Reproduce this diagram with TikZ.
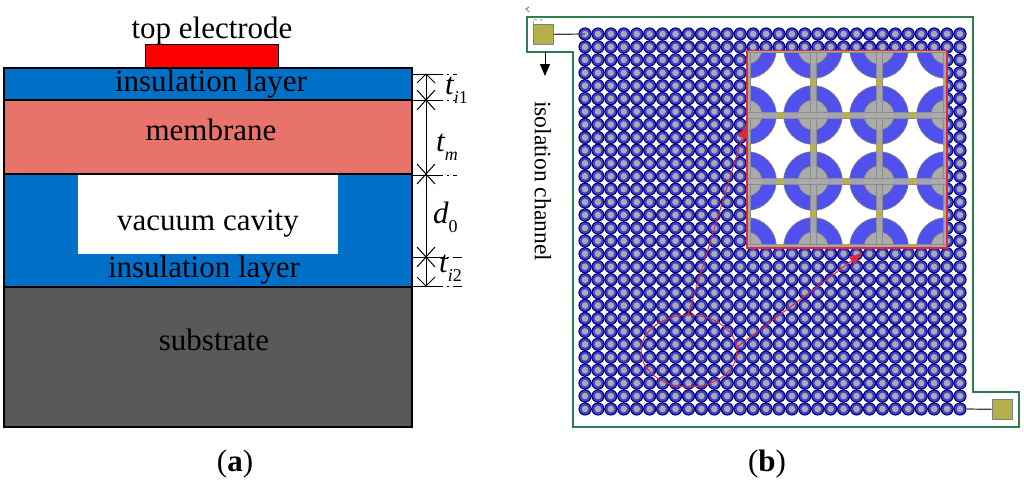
\documentclass[tikz,border=0pt]{standalone}
\usepackage{fontspec}
\setmainfont{Liberation Serif}
\usetikzlibrary{arrows.meta,shapes.geometric}
\definecolor{layerblue}{HTML}{0070C8}
\definecolor{membranered}{HTML}{E8736A}
\definecolor{subgray}{HTML}{595959}
\definecolor{ringblue}{HTML}{3F3FD8}
\definecolor{insetblue}{HTML}{5050EE}
\definecolor{cellgray}{HTML}{ABABAB}
\definecolor{padolive}{HTML}{B5B04A}
\definecolor{framegreen}{HTML}{2E7D4F}
\definecolor{pointred}{HTML}{E0283C}
\newcommand{\sublab}[2]{{\itshape #1}\raisebox{-0.3em}{\fontsize{18}{18}\selectfont #2}}
\tikzset{
  layer/.style={draw=black,line width=1.2pt,minimum width=408pt,inner sep=0pt,outer sep=0pt},
  lab/.style={font=\fontsize{31}{31}\selectfont,inner sep=0pt},
  dimlab/.style={font=\fontsize{31}{31}\selectfont,inner sep=0pt,anchor=west},
  dimline/.style={line width=1pt,black},
  tick/.style={line width=1pt,black,dash pattern=on 31pt off 4pt on 2pt off 4pt on 14pt},
  pad/.style={draw=gray,line width=1pt,fill=padolive,minimum size=20pt,inner sep=0pt},
  wire/.style={line width=1.2pt,black!75},
  pointer/.style={pointred,line width=1pt},
}
\begin{document}
\begin{tikzpicture}[x=1pt,y=-1pt]
\useasboundingbox (0,0) rectangle (1024,487);
% --- panel (a)
\node[draw=black,line width=1pt,fill=red,minimum width=133pt,minimum height=23pt,inner sep=0pt] (electrode) at (211.5,56.5) {};
\node[lab] (electrodeT) at (212,31) {top electrode};
\node[layer,fill=layerblue,minimum height=32pt] (insA) at (208,84) {};
\node[lab] (insAT) at (211,84) {insulation layer};
\node[layer,fill=membranered,minimum height=74pt] (membrane) at (208,137) {};
\node[lab] (membraneT) at (211,130) {membrane};
\node[layer,fill=layerblue,minimum height=113pt] (insB) at (208,230.5) {};
\node[fill=white,minimum width=260pt,minimum height=79pt,inner sep=0pt] (cavity) at (208,214) {};
\node[lab] (cavityT) at (208,224) {vacuum cavity};
\node[lab] (insBT) at (204,270) {insulation layer};
\node[layer,fill=subgray,minimum height=140pt] (substrate) at (208,357) {};
\node[lab] (substrateT) at (214,340) {substrate};
% dimension ticks
\coordinate (d1) at (426,74);
\coordinate (d2) at (426,100);
\coordinate (d3) at (426,174);
\coordinate (d4) at (426,257);
\coordinate (d5) at (426,286);
\coordinate (e1) at (457,74);
\coordinate (e2) at (455,100);
\coordinate (e3) at (457,175);
\coordinate (e4) at (462,257);
\coordinate (e5) at (462,286);
\draw[tick] (412,74) -- (e1);
\draw[tick] (412,100) -- (e2);
\draw[tick] (412,175) -- (e3);
\draw[tick] (412,257) -- (e4);
\draw[tick] (412,286) -- (e5);
\draw[dimline] (d1) -- (d5);
\draw[dimline] (417,83) -- (d1) -- (435,83);
\draw[dimline] (417,277) -- (d5) -- (435,277);
\foreach \c in {d2,d3,d4}{
  \draw[dimline] ([shift={(-9,-10)}]\c) -- ([shift={(9,10)}]\c);
  \draw[dimline] ([shift={(-9,10)}]\c) -- ([shift={(9,-10)}]\c);
}
\node[dimlab] (ti1) at (445,90) {\sublab{t}{\textit{i}1}};
\node[dimlab] (tm) at (436,147) {\sublab{t}{\textit{m}}};
\node[dimlab] (d0) at (433,217) {\sublab{d}{0}};
\node[dimlab] (ti2) at (439,268) {\sublab{t}{\textit{i}2}};
\node[lab] (capA) at (235,464) {(\textbf{a})};
% --- panel (b)
\foreach \i in {0,...,29}{
  \draw[black,line width=1.3pt] (585,{34+12.93*\i}) -- (960,{34+12.93*\i});
  \draw[black,line width=1.3pt] ({585+12.93*\i},34) -- ({585+12.93*\i},409);
}
\foreach \i in {0,...,29}{\foreach \j in {0,...,29}{
  \fill[black!60!blue] ({585+12.93*\i},{34+12.93*\j}) circle[radius=6.6];
  \fill[ringblue] ({585+12.93*\i},{34+12.93*\j}) circle[radius=5.6];
  \fill[cellgray] ({585+12.93*\i},{34+12.93*\j}) circle[radius=3.3];
}}
\draw[framegreen,line width=2pt] (527,17) -- (973,17) -- (973,392) -- (1019,392) -- (1019,427) -- (573,427) -- (573,52) -- (527,52) -- cycle;
\node[pad] (padA) at (543,34.5) {};
\node[pad] (padB) at (1002,409.5) {};
\coordinate (arrayA) at (585,34);
\coordinate (arrayB) at (967,409);
\draw[wire] (padA) -- (arrayA);
\draw[wire] (arrayB) -- (padB);
\coordinate (arrowTip) at (545,76);
\coordinate (arrowTail) at (545,52);
\draw[black,line width=1pt,-{Triangle[length=12pt,width=10pt]}] (arrowTail) -- (arrowTip);
\node[font=\fontsize{23.5}{23.5}\selectfont,rotate=-90,inner sep=0pt] (iso) at (543,181) {isolation channel};
\node[lab] (capB) at (767,464) {(\textbf{b})};
\draw[gray,line width=1pt] (529,7) -- (526,9) -- (529,12);
\draw[gray!70,line width=.8pt,dashed] (533,24) -- (533,19) -- (541,19) -- (541,24);
% inset
\fill[white] (747,50.5) rectangle (947,248);
\begin{scope}
\clip (747,50.5) rectangle (947,248);
\foreach \x in {747,813,879,946}{\foreach \y in {49,115,181,247}{
  \fill[insetblue] (\x,\y) circle[radius=29.3];
  \draw[black!50,line width=.7pt] (\x,\y) circle[radius=29.3];
}}
\foreach \x in {747,813,879,946}{\foreach \y in {49,115,181,247}{
  \fill[cellgray] (\x,\y) circle[radius=15];
  \draw[black!50,line width=.7pt] (\x,\y) circle[radius=15];
}}
\foreach \x in {747,813,879,946}{
  \fill[cellgray,opacity=.9] (\x-3,49) rectangle (\x+3,248);
  \draw[black!45,line width=.6pt] (\x-3,49) -- (\x-3,248) (\x+3,49) -- (\x+3,248);
}
\foreach \y in {49,115,181,247}{
  \fill[cellgray,opacity=.9] (747,\y-3) rectangle (947,\y+3);
  \draw[black!45,line width=.6pt] (747,\y-3) -- (947,\y-3) (747,\y+3) -- (947,\y+3);
}
\foreach \x in {747,813,879,946}{\foreach \y in {82,148,214}{
  \fill[padolive] (\x-3.2,\y-3.2) rectangle (\x+3.2,\y+3.2);
}}
\foreach \x in {780,846,912}{\foreach \y in {49,115,181,247}{
  \fill[padolive] (\x-3.2,\y-3.2) rectangle (\x+3.2,\y+3.2);
}}
\end{scope}
\node[draw=pointred,line width=1.4pt,minimum width=200pt,minimum height=197.5pt,inner sep=0pt] (inset) at (847,149.25) {};
\node[draw=pointred,line width=1pt,ellipse,minimum width=96pt,minimum height=72pt,inner sep=0pt] (spot) at (689,351) {};
\coordinate (tipA) at (746,125);
\coordinate (tipB) at (862,253);
\draw[pointer,-{Triangle[length=13pt,width=9pt]}] (688,315) -- (tipA);
\draw[pointer,-{Triangle[length=13pt,width=9pt]}] (737,347) -- (tipB);
\end{tikzpicture}
\end{document}
